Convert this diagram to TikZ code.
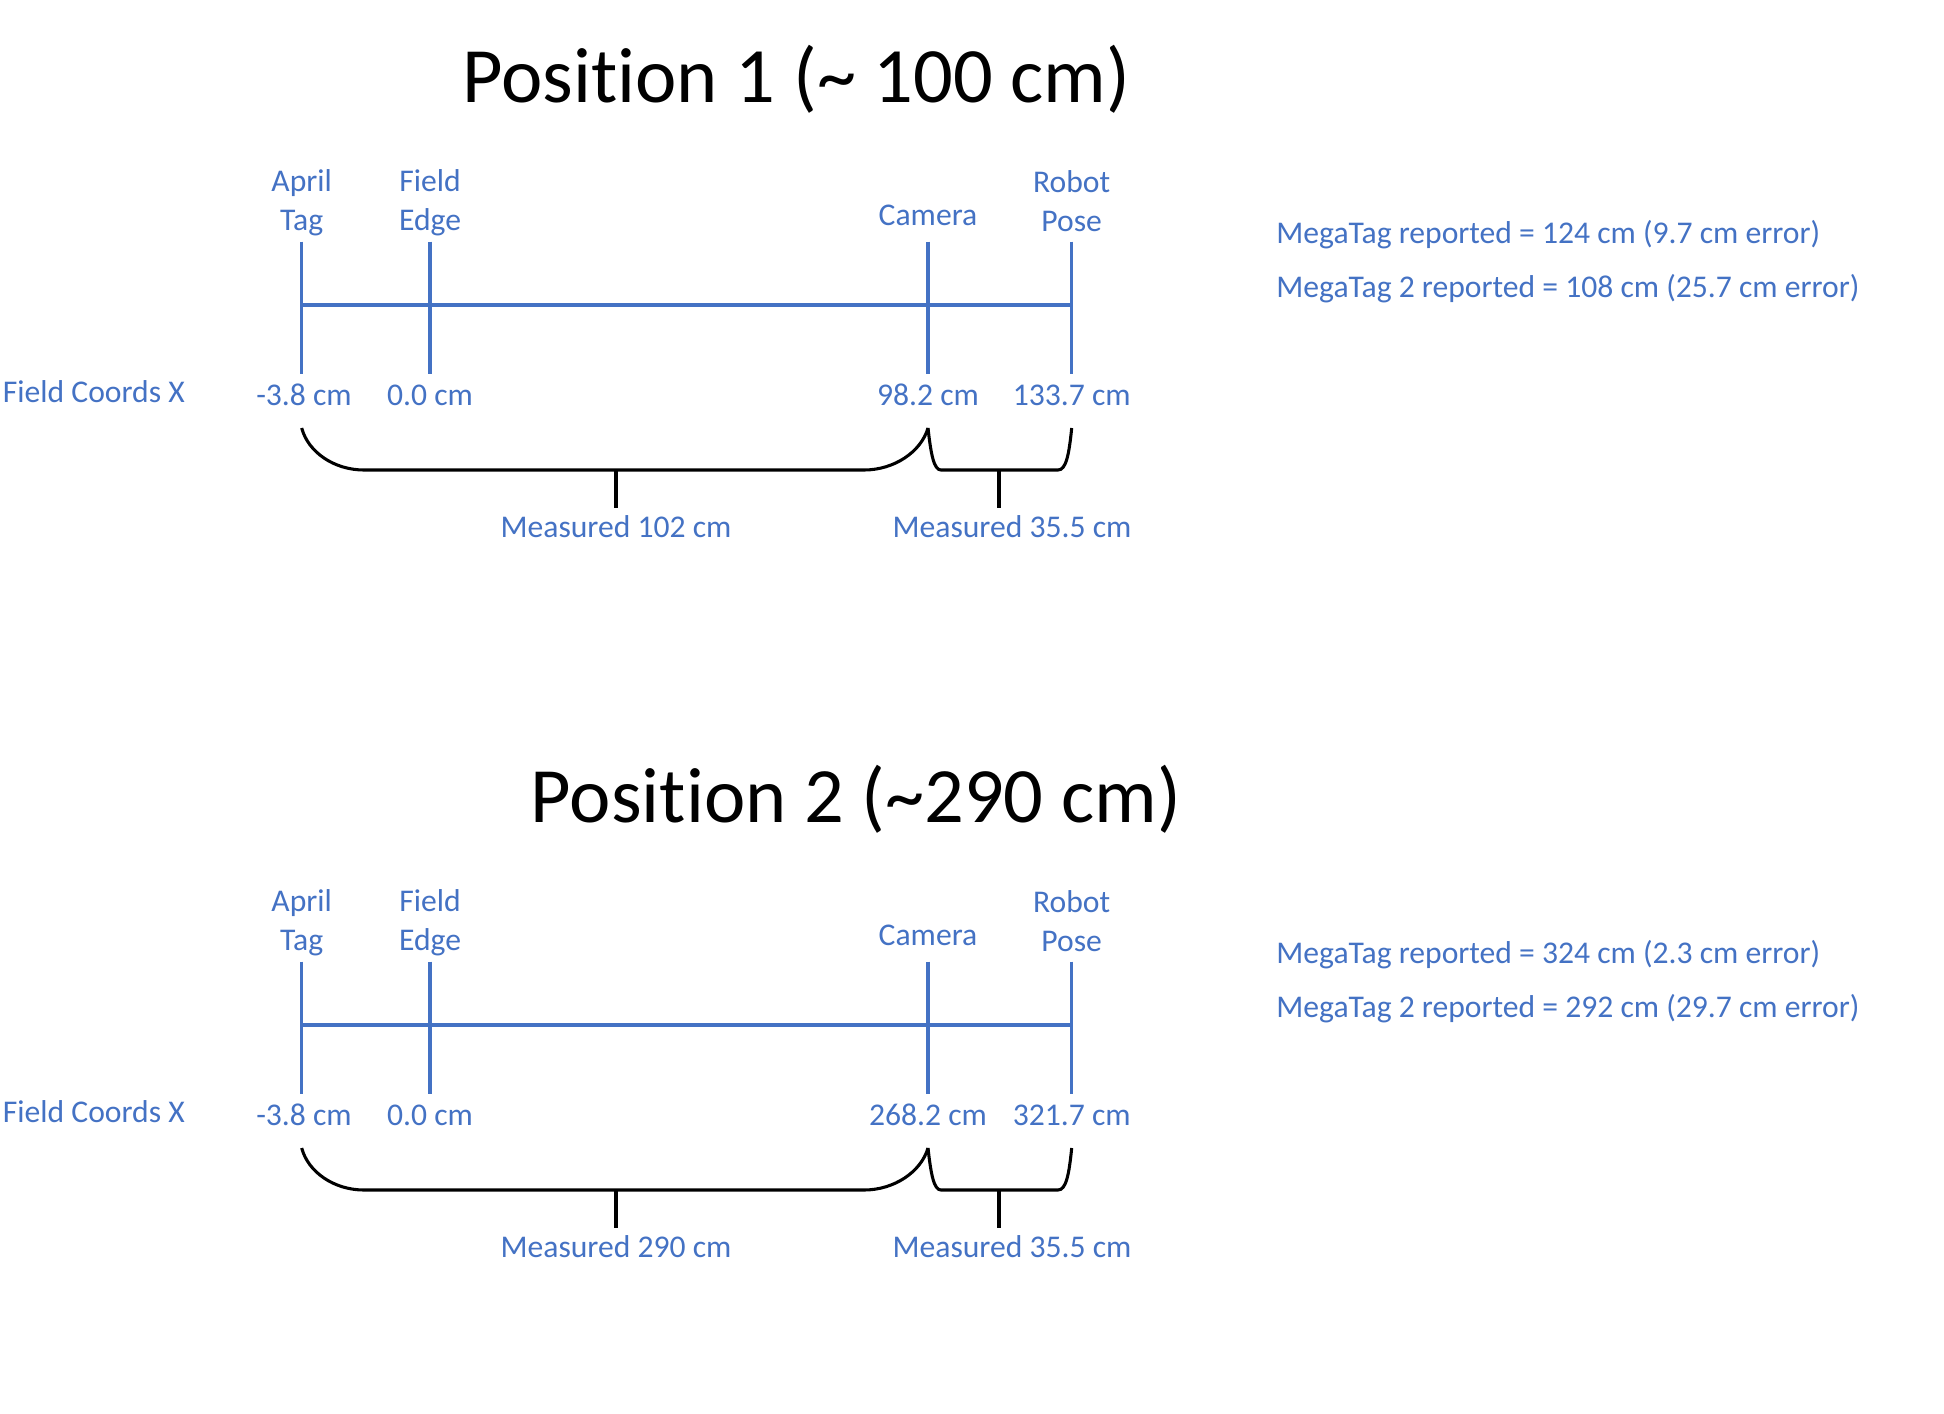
\documentclass[tikz,border=0pt]{standalone}
\usepackage{fontspec}
\setmainfont{Carlito}[Ligatures=CommonOff]
\usepackage{tikz}
\definecolor{tagblue}{HTML}{4472C4}

\begin{document}
\begin{tikzpicture}[x=0.016cm,y=-0.016cm]
\tikzstyle{every node}=[inner sep=0pt,text=tagblue,font=\fontsize{14.4}{17.4}\selectfont];
\tikzstyle{ttl}=[text=black,font=\fontsize{35.7}{42}\selectfont];
\tikzstyle{axis}=[draw=tagblue,line width=1.4pt];
\tikzstyle{brace}=[draw=black,line width=1.4pt];
\useasboundingbox[fill=white] (0,0) rectangle (1944,1413);

% Position 1
\node[ttl,anchor=base] (ttl1) at (796.5,102.3) {Position 1 (\textasciitilde{} 100 cm)};
\coordinate (at1) at (301.7,241.7); \coordinate (ab1) at (301.7,374);
\coordinate (ft1) at (430,241.7); \coordinate (fb1) at (430,374);
\coordinate (ct1) at (928,241.7); \coordinate (cb1) at (928,374);
\coordinate (rt1) at (1071.7,241.7); \coordinate (rb1) at (1071.7,374);
\coordinate (l1) at (301.7,305); \coordinate (r1) at (1071.7,305);
\draw[axis] (at1) -- (ab1) (ft1) -- (fb1) (ct1) -- (cb1) (rt1) -- (rb1);
\draw[axis] (l1) -- (r1);
\node[anchor=base,align=center] (april1) at (301.7,230) {April\\Tag};
\node[anchor=base,align=center] (field1) at (430,230) {Field\\Edge};
\node[anchor=base] (cam1) at (928,225) {Camera};
\node[anchor=base,align=center] (robot1) at (1071.7,231) {Robot\\Pose};
\node[anchor=base west] (coords1) at (2.5,402) {Field Coords X};
\node[anchor=base] (xa1) at (304,405) {-3.8 cm};
\node[anchor=base] (xf1) at (430,405) {0.0 cm};
\node[anchor=base] (xc1) at (928,405) {98.2 cm};
\node[anchor=base] (xr1) at (1071.7,405) {133.7 cm};
% braces
\coordinate (ba1) at (301.7,428); \coordinate (bc1) at (928,428); \coordinate (br1) at (1071.7,428);
\draw[brace] (ba1) .. controls (308,452) and (334,470) .. (364,470) -- (864,470) .. controls (894,470) and (921,452) .. (bc1);
\draw[brace] (bc1) .. controls (931,455) and (934,470) .. (941,470) -- (1058,470) .. controls (1066,470) and (1069,455) .. (br1);
\coordinate (k1) at (616,470); \coordinate (kk1) at (999,470);
\node[anchor=base] (meas1) at (616,537) {Measured 102 cm};
\node[anchor=base] (meass1) at (1012,537) {Measured 35.5 cm};
\draw[brace] (k1) -- (k1 |- 0,508) (kk1) -- (kk1 |- 0,508);
\node[anchor=base west] (mega1) at (1276,243) {MegaTag reported = 124 cm (9.7 cm error)};
\node[anchor=base west] (megaa1) at (1276,297) {MegaTag 2 reported = 108 cm (25.7 cm error)};

% Position 2
\node[ttl,anchor=base] (ttl2) at (856,822.3) {Position 2 (\textasciitilde290 cm)};
\coordinate (at2) at (301.7,961.7); \coordinate (ab2) at (301.7,1094);
\coordinate (ft2) at (430,961.7); \coordinate (fb2) at (430,1094);
\coordinate (ct2) at (928,961.7); \coordinate (cb2) at (928,1094);
\coordinate (rt2) at (1071.7,961.7); \coordinate (rb2) at (1071.7,1094);
\coordinate (l2) at (301.7,1025); \coordinate (r2) at (1071.7,1025);
\draw[axis] (at2) -- (ab2) (ft2) -- (fb2) (ct2) -- (cb2) (rt2) -- (rb2);
\draw[axis] (l2) -- (r2);
\node[anchor=base,align=center] (april2) at (301.7,950) {April\\Tag};
\node[anchor=base,align=center] (field2) at (430,950) {Field\\Edge};
\node[anchor=base] (cam2) at (928,945) {Camera};
\node[anchor=base,align=center] (robot2) at (1071.7,951) {Robot\\Pose};
\node[anchor=base west] (coords2) at (2.5,1122) {Field Coords X};
\node[anchor=base] (xa2) at (304,1125) {-3.8 cm};
\node[anchor=base] (xf2) at (430,1125) {0.0 cm};
\node[anchor=base] (xc2) at (928,1125) {268.2 cm};
\node[anchor=base] (xr2) at (1071.7,1125) {321.7 cm};
% braces
\coordinate (ba2) at (301.7,1148); \coordinate (bc2) at (928,1148); \coordinate (br2) at (1071.7,1148);
\draw[brace] (ba2) .. controls (308,1172) and (334,1190) .. (364,1190) -- (864,1190) .. controls (894,1190) and (921,1172) .. (bc2);
\draw[brace] (bc2) .. controls (931,1175) and (934,1190) .. (941,1190) -- (1058,1190) .. controls (1066,1190) and (1069,1175) .. (br2);
\coordinate (k2) at (616,1190); \coordinate (kk2) at (999,1190);
\node[anchor=base] (meas2) at (616,1257) {Measured 290 cm};
\node[anchor=base] (meass2) at (1012,1257) {Measured 35.5 cm};
\draw[brace] (k2) -- (k2 |- 0,1228) (kk2) -- (kk2 |- 0,1228);
\node[anchor=base west] (mega2) at (1276,963) {MegaTag reported = 324 cm (2.3 cm error)};
\node[anchor=base west] (megaa2) at (1276,1017) {MegaTag 2 reported = 292 cm (29.7 cm error)};
\end{tikzpicture}
\end{document}
